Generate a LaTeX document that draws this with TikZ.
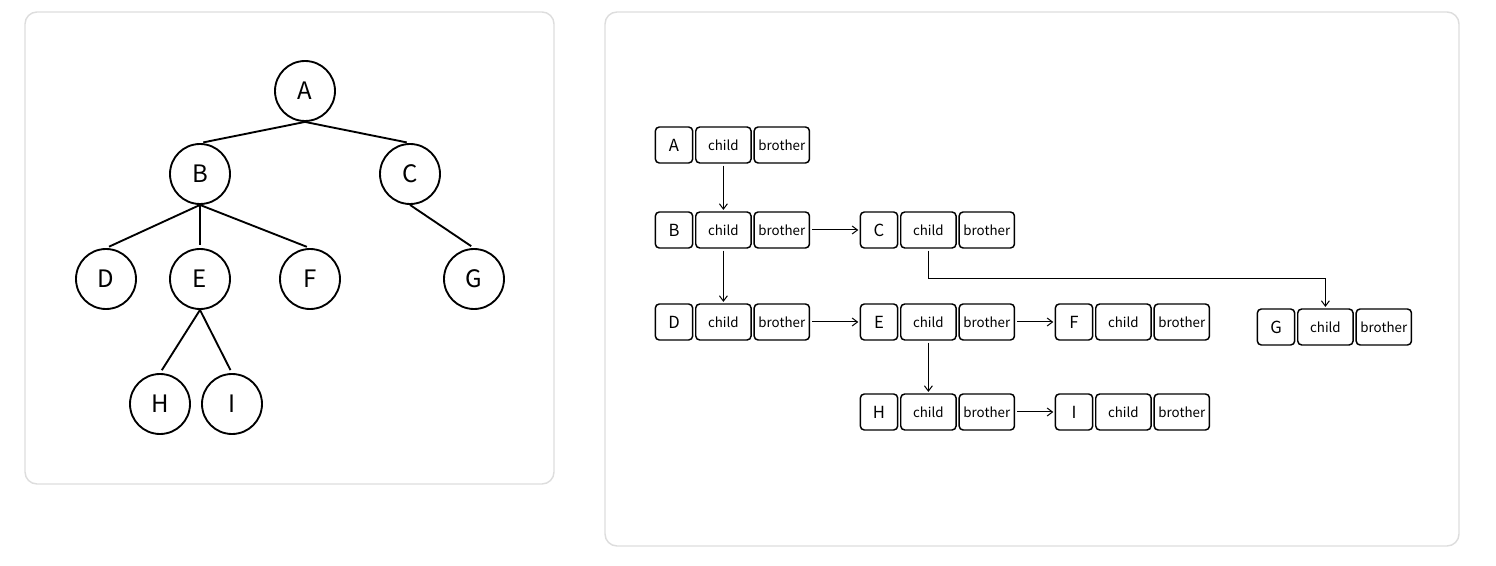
\documentclass[tikz,border=0pt]{standalone}
\usepackage{fontspec}
\setmainfont{Noto Sans CJK SC}
\usepackage{tikz}
\usetikzlibrary{positioning, arrows.meta}
\usepackage{xcolor}
\definecolor{panelgray}{HTML}{DDDDDD}
\tikzset{>={Straight Barb[length=4pt, width=6pt]}}
\tikzset{
  panel/.style={draw=panelgray, line width=1.1pt, rounded corners=9pt},
  treenode/.style={circle, draw, line width=1.4pt, minimum size=45pt, inner sep=0pt, font=\fontsize{18}{20}\selectfont},
  treeedge/.style={line width=1.4pt, shorten >=2.5pt},
  letterbox/.style={draw, line width=1.1pt, rounded corners=3pt, minimum width=28pt, minimum height=27pt, inner sep=0pt, font=\fontsize{12.5}{14}\selectfont},
  fieldbox/.style={letterbox, minimum width=41.5pt, font=\fontsize{10}{12}\selectfont},
  link/.style={->, line width=0.75pt, shorten <=1.5pt, shorten >=1pt}
}

\begin{document}
\begin{tikzpicture}[x=0.75pt, y=-0.75pt]
				\useasboundingbox (0,0) rectangle (1496,566);
				% the two panels
				\draw[panel] (25,12) rectangle (554,484);
				\draw[panel] (605,12) rectangle (1459,546);
				% tree
				\node[treenode] (tA) at (305,91) {A};
				\node[treenode] (tB) at (200,174) {B};
				\node[treenode] (tC) at (410,174) {C};
				\node[treenode] (tD) at (106,279) {D};
				\node[treenode] (tE) at (200,279) {E};
				\node[treenode] (tF) at (310,279) {F};
				\node[treenode] (tG) at (474,279) {G};
				\node[treenode] (tH) at (160,404) {H};
				\node[treenode] (tI) at (232,404) {I};
				\foreach \p/\c in {tA/tB, tA/tC, tB/tD, tB/tE, tB/tF, tC/tG, tE/tH, tE/tI}
					\draw[treeedge] (\p.south) -- (\c.north);
				% child-brother records
				\foreach \n/\x/\y in {A/674/145, B/674/230, C/879/230, D/674/322, E/879/322, F/1074/322, G/1276/327, H/879/412, I/1074/412}{
					\node[letterbox] (\n) at (\x,\y) {\n};
					\node[fieldbox, right=1.2pt of \n] (\n-child) {child};
					\node[fieldbox, right=1.2pt of \n-child] (\n-brother) {brother};
				}
				\draw[link] (A-child) -- (B-child);
				\draw[link] (B-child) -- (D-child);
				\draw[link] (E-child) -- (H-child);
				\draw[link] (B-brother) -- (C);
				\draw[link] (D-brother) -- (E);
				\draw[link] (E-brother) -- (F);
				\draw[link] (H-brother) -- (I);
				\coordinate (bend) at (0,279);
				\draw[link] (C-child.south) -- (C-child.south |- bend) -| (G-child.north);
			\end{tikzpicture}
\end{document}
